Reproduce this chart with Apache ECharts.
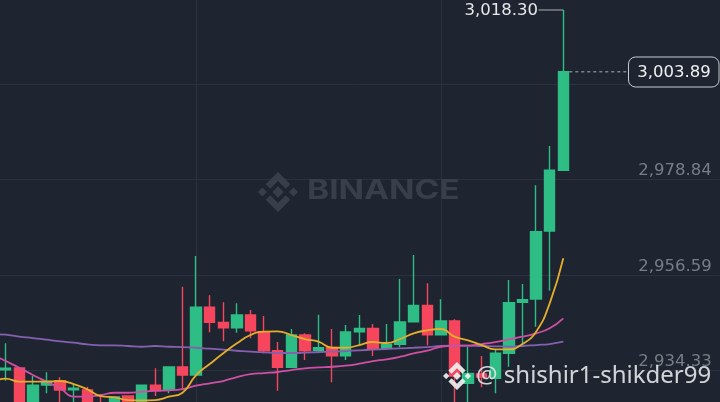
<!DOCTYPE html>
<html>
<head>
<meta charset="utf-8">
<style>
  html, body { margin: 0; padding: 0; background: #1e2530; overflow: hidden; width: 720px; height: 402px; }
  /* canvas starts left of the window so the averages run off the edge */
  #main { position: absolute; left: -15px; top: 0; width: 735px; height: 402px; }
</style>
<script src="https://cdn.jsdelivr.net/npm/echarts@6/dist/echarts.min.js"></script>
</head>
<body>
<div id="main"></div>
<script>
// candles, oldest first. the first one sits just off the left edge, only the averages show from it
var opens = [2934.2, 2934.45, 2934.85, 2926, 2930.89, 2931.89, 2929.79, 2929.72, 2926.5, 2926, 2928.32, 2926, 2930.82, 2929.88, 2935.08, 2933.22, 2949.00, 2945.50, 2944.24, 2947.20, 2943.31, 2938.88, 2935.01, 2942.54, 2938.97, 2939.67, 2937.72, 2943.31, 2944.10, 2939.44, 2940.37, 2945.64, 2949.46, 2942.61, 2945.80, 2931.28, 2933.45, 2932.45, 2938.28, 2950.16, 2950.93, 2966.78, 2980.93];
var closes = [2934.5, 2934.78, 2926, 2930.82, 2931.75, 2929.72, 2930.12, 2926, 2926, 2928.09, 2926, 2930.82, 2929.56, 2935.08, 2933.22, 2949.00, 2945.50, 2944.24, 2947.20, 2943.54, 2938.88, 2935.01, 2942.54, 2938.88, 2939.58, 2937.72, 2943.24, 2944.10, 2939.44, 2940.37, 2945.57, 2949.46, 2942.61, 2945.80, 2932.98, 2933.61, 2932.75, 2938.28, 2950.07, 2950.77, 2966.62, 2980.93, 3003.89];
var lows = [2934.2, 2931.89, 2926, 2926, 2928.95, 2926, 2926, 2926, 2926, 2926, 2926, 2926, 2928.32, 2928.95, 2929.72, 2933.22, 2943.17, 2941.07, 2943.08, 2941.77, 2938.28, 2929.56, 2935.01, 2936.71, 2938.28, 2931.52, 2936.71, 2940.28, 2937.65, 2939.04, 2939.67, 2945.64, 2940.14, 2942.61, 2926, 2926, 2930.35, 2928.95, 2935.15, 2940.21, 2944.48, 2952.87, 2980.93];
var highs = [2934.5, 2940.61, 2934.85, 2932.98, 2933.85, 2932.68, 2931.12, 2930.49, 2928.79, 2928.09, 2928.32, 2930.82, 2934.78, 2935.08, 2953.80, 2960.96, 2951.79, 2950.16, 2949.93, 2948.37, 2946.97, 2940.91, 2943.94, 2942.94, 2947.27, 2943.94, 2944.87, 2947.20, 2945.11, 2945.11, 2955.60, 2961.19, 2954.59, 2950.86, 2946.20, 2939.81, 2937.65, 2939.04, 2955.36, 2954.43, 2977.44, 2986.60, 3018.30];
// moving averages
var maYellow = [2931.35, 2932.36, 2931.66, 2931.66, 2931.66, 2931.82, 2931.12, 2929.88, 2928.32, 2928.02, 2927.39, 2927.32, 2927.39, 2928.16, 2929.09, 2933.22, 2935.78, 2938.28, 2940.61, 2942.54, 2943.31, 2943.40, 2942.54, 2941.61, 2940.98, 2939.58, 2939.58, 2940.21, 2940.91, 2940.68, 2941.61, 2942.94, 2943.64, 2943.94, 2942.15, 2941.31, 2940.21, 2939.21, 2939.21, 2940.44, 2943.31, 2949.93, 2960.42];
var maPink = [2938.00, 2936.48, 2934.92, 2933.22, 2931.66, 2930.12, 2928.16, 2928.16, 2928.56, 2929.09, 2929.09, 2929.32, 2929.56, 2929.65, 2929.95, 2930.72, 2931.28, 2931.82, 2932.75, 2933.45, 2933.68, 2933.92, 2934.38, 2934.78, 2935.01, 2935.15, 2935.39, 2935.85, 2936.48, 2936.88, 2937.48, 2938.28, 2938.88, 2939.81, 2940.05, 2940.09, 2940.44, 2940.91, 2941.54, 2942.15, 2942.94, 2944.10, 2946.43];
var maPurple = [2942.77, 2942.61, 2942.15, 2941.84, 2941.45, 2941.07, 2940.75, 2940.37, 2940.14, 2940.14, 2939.98, 2939.81, 2939.98, 2939.81, 2939.74, 2939.58, 2939.35, 2939.12, 2938.88, 2938.65, 2938.51, 2938.35, 2938.35, 2938.42, 2938.58, 2938.65, 2938.81, 2938.97, 2939.12, 2939.28, 2939.44, 2939.58, 2939.74, 2939.98, 2940.05, 2940.09, 2939.98, 2939.91, 2939.86, 2939.98, 2940.21, 2940.44, 2940.98];
var priceLines = [2934.33, 2956.59, 2978.84, 3001.09];
var priceLabels = [2934.33, 2956.59, 2978.84];
var timeLines = [15, 33];
var highPrice = 3018.30;
var lastPrice = 3003.89;
var slots = 54; // room to the right of the last candle

var categories = [];
for (var i = 0; i < slots; i++) {
  categories.push(String(i));
}
var candles = [];
for (var j = 0; j < opens.length; j++) {
  candles.push([opens[j], closes[j], lows[j], highs[j]]);
}

var gridColor = '#2b323e';
var uiFont = '"DejaVu Sans"';
var edge = 15; // same as the css left of #main

function money(v) {
  return v.toLocaleString('en-US', { minimumFractionDigits: 2, maximumFractionDigits: 2 });
}

var myChart = echarts.init(document.getElementById('main'));
var option = {
  animation: false,
  backgroundColor: '#1e2530',
  grid: { left: 0.3, top: 0, width: 734.4, height: 402 },
  xAxis: {
    type: 'category',
    data: categories,
    axisLine: { show: false },
    axisTick: { show: false },
    axisLabel: { show: false },
    splitLine: {
      show: true,
      alignWithLabel: true,
      interval: function (index) {
        return timeLines.indexOf(index) >= 0;
      },
      lineStyle: { color: gridColor, width: 1 }
    }
  },
  yAxis: {
    type: 'value',
    position: 'right',
    min: 2926.93,
    max: 3020.63,
    axisLine: { show: false },
    axisTick: { show: false, customValues: priceLines },
    axisLabel: {
      inside: true,
      margin: 8,
      customValues: priceLabels,
      verticalAlign: 'bottom',
      color: '#787e87',
      fontFamily: 'DejaVu Sans',
      fontSize: 16.5,
      formatter: function (value) {
        return money(value);
      }
    },
    splitLine: { show: true, lineStyle: { color: gridColor, width: 1 } }
  },
  series: [{
      type: 'candlestick',
      barWidth: 11,
      data: candles,
      itemStyle: {
        color: '#2ebd85',
        color0: '#f6465d',
        borderColor: '#2ebd85',
        borderColor0: '#f6465d',
        borderWidth: 1.4
      }
    },
    {
      type: 'line',
      data: maPurple,
      smooth: true,
      symbol: 'none',
      lineStyle: { color: '#8560b0', width: 1.8 }
    },
    {
      type: 'line',
      data: maPink,
      smooth: true,
      symbol: 'none',
      lineStyle: { color: '#cf4fa5', width: 1.8 }
    },
    {
      type: 'line',
      data: maYellow,
      smooth: true,
      symbol: 'none',
      lineStyle: { color: '#e5ad2c', width: 1.8 }
    }
  ]
};
myChart.setOption(option);

// binance mark: two chevrons and three diamonds
function binanceLogo(cx, cy, size, color, z) {
  var s = size / 126.6;
  var parts = [
    [[-24.6, -10.1], [0, -34.7], [24.6, -10.1], [38.9, -24.4], [0, -63.3], [-38.9, -24.4]],
    [[-24.6, 10.1], [0, 34.7], [24.6, 10.1], [38.9, 24.4], [0, 63.3], [-38.9, 24.4]],
    [[-18, 0], [0, -18], [18, 0], [0, 18]],
    [[-63.3, 0], [-49, -14.3], [-34.7, 0], [-49, 14.3]],
    [[63.3, 0], [49, -14.3], [34.7, 0], [49, 14.3]]
  ];
  return parts.map(function (pts) {
    return {
      type: 'polygon',
      z: z,
      silent: true,
      shape: { points: pts.map(function (p) { return [cx + p[0] * s, cy + p[1] * s]; }) },
      style: { fill: color }
    };
  });
}

var lastIndex = opens.length - 1;
var highPt = myChart.convertToPixel({ seriesIndex: 0 }, [lastIndex, highPrice]);
var lastPt = myChart.convertToPixel({ seriesIndex: 0 }, [lastIndex, lastPrice]);

var graphics = []
  .concat(binanceLogo(278 + edge, 192, 40, '#383f4a', 0))
  .concat(binanceLogo(457 + edge, 376, 28, 'rgba(240,240,240,0.92)', 100))
  .concat([
    {
      type: 'text', z: 0, silent: true, x: 307 + edge, y: 191, scaleX: 1.24,
      style: { text: 'BINANCE', fill: '#383f4a', font: 'bold 27px Inter', textVerticalAlign: 'middle' }
    },
    {
      type: 'line', z: 50, silent: true,
      shape: { x1: 538.5 + edge, y1: highPt[1], x2: highPt[0], y2: highPt[1] },
      style: { stroke: '#aab0b6', lineWidth: 1 }
    },
    {
      type: 'text', z: 50, silent: true, x: 538 + edge, y: highPt[1] + 1,
      style: { text: money(highPrice), fill: '#e6e8ea', font: '16.5px ' + uiFont, textAlign: 'right', textVerticalAlign: 'middle' }
    },
    {
      type: 'line', z: 50, silent: true,
      shape: { x1: lastPt[0] + 6, y1: lastPt[1], x2: 629 + edge, y2: lastPt[1] },
      style: { stroke: '#aab0b6', lineWidth: 1, lineDash: [3, 3] }
    },
    {
      type: 'rect', z: 50, silent: true,
      shape: { x: 628.5 + edge, y: 57, width: 90.5, height: 30, r: 7 },
      style: { fill: '#1e2530', stroke: '#c8ccd0', lineWidth: 1 }
    },
    {
      type: 'text', z: 51, silent: true, x: 674 + edge, y: 73,
      style: { text: money(lastPrice), fill: '#f0f1f2', font: '16.5px ' + uiFont, textAlign: 'center', textVerticalAlign: 'middle' }
    },
    {
      type: 'text', z: 100, silent: true, x: 476 + edge, y: 376,
      style: { text: '@ shishir1-shikder99', fill: 'rgba(225,227,230,0.92)', font: '24px "Noto Sans"', textVerticalAlign: 'middle' }
    }
  ]);
myChart.setOption({ graphic: graphics });
</script>
</body>
</html>
